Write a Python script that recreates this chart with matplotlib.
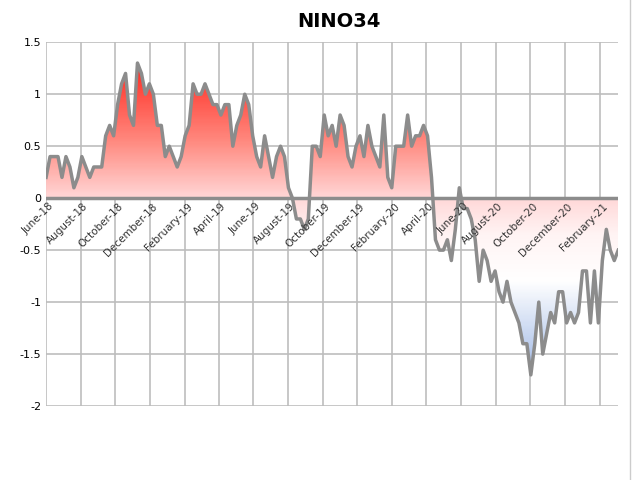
import numpy as np
import pandas as pd
import matplotlib
matplotlib.use("Agg")
import matplotlib.pyplot as plt
import matplotlib.dates as mdates
from matplotlib.colors import LinearSegmentedColormap

# weekly NINO34 values from June 2018
values = [0.2, 0.4, 0.4, 0.4, 0.2, 0.4, 0.3, 0.1, 0.2, 0.4, 0.3, 0.2, 0.3, 0.3, 0.3,
          0.6, 0.7, 0.6, 0.9, 1.1, 1.2, 0.8, 0.7, 1.3, 1.2, 1.0, 1.1, 1.0, 0.7, 0.7,
          0.4, 0.5, 0.4, 0.3, 0.4, 0.6, 0.7, 1.1, 1.0, 1.0, 1.1, 1.0, 0.9, 0.9, 0.8,
          0.9, 0.9, 0.5, 0.7, 0.8, 1.0, 0.9, 0.6, 0.4, 0.3, 0.6, 0.4, 0.2, 0.4, 0.5,
          0.4, 0.1, 0.0, -0.2, -0.2, -0.3, -0.2, 0.5, 0.5, 0.4,
          0.8, 0.6, 0.7, 0.5, 0.8, 0.7, 0.4, 0.3, 0.5, 0.6, 0.4, 0.7, 0.5, 0.4, 0.3,
          0.8, 0.2, 0.1, 0.5, 0.5, 0.5, 0.8, 0.5, 0.6, 0.6, 0.7, 0.6, 0.2, -0.4, -0.5,
          -0.5, -0.4, -0.6, -0.3, 0.1, -0.1, -0.1, -0.2, -0.4, -0.8, -0.5, -0.6, -0.8,
          -0.7, -0.9, -1.0, -0.8, -1.0, -1.1, -1.2, -1.4, -1.4, -1.7, -1.4, -1.0, -1.5,
          -1.3, -1.1, -1.2, -0.9, -0.9, -1.2, -1.1, -1.2, -1.1, -0.7, -0.7, -1.2, -0.7,
          -1.2, -0.6, -0.3, -0.5, -0.6, -0.5]
dates = pd.date_range("2018-06-01", periods=len(values), freq="7D")
tick_dates = pd.date_range("2018-06-01", "2021-02-01", freq="2MS")
tick_labels = [d.strftime("%B-%y") for d in tick_dates]

x = mdates.date2num(dates)
y = np.array(values)

fig = plt.figure(figsize=(6.4, 4.8), dpi=100)
ax = fig.add_axes([0.072, 0.154, 0.894, 0.758])
ax.set_xlim(x[0], x[-1])
ax.set_ylim(-2, 1.5)

# gradient fill clipped to the area under the curve
cmap = LinearSegmentedColormap.from_list("nino", [
    (0.0, "#9fb8e6"), (0.3, "#ffffff"), (0.45, "#fff4f4"),
    (0.566, "#ffd8d8"), (0.75, "#ff8a80"), (1.0, "#ff2a20")])
poly = ax.fill_between(x, y, 0, color="none")
grad = np.linspace(-1.7, 1.3, 300).reshape(-1, 1)
im = ax.imshow(grad, cmap=cmap, aspect="auto", origin="lower",
               extent=[x[0], x[-1], -1.7, 1.3], zorder=1)
im.set_clip_path(poly.get_paths()[0], transform=ax.transData)

ax.set_yticks([1.5, 1, 0.5, 0, -0.5, -1, -1.5, -2])
ax.set_yticklabels(["1.5", "1", "0.5", "0", "-0.5", "-1", "-1.5", "-2"])
ax.set_xticks(mdates.date2num(tick_dates))
ax.set_xticklabels([])
ax.tick_params(length=0, labelsize=8)
ax.grid(True, color="#bdbdbd", linewidth=1.2)
ax.set_axisbelow(True)
for s in ax.spines.values():
    s.set_visible(False)
ax.axhline(0, color="#8c8c8c", linewidth=2.5, zorder=2)
ax.plot(x, y, color="#8c8c8c", linewidth=2.5, zorder=3)

for d, lab in zip(mdates.date2num(tick_dates), tick_labels):
    ax.text(d + 4, -0.03, lab, rotation=45, ha="right", va="top", fontsize=7.5,
            color="#333333", rotation_mode="anchor", zorder=4)

fig.text(0.53, 0.955, "NINO34", ha="center", va="center", fontsize=14, fontweight="bold")
fig.add_artist(plt.Line2D([0.985, 0.985], [0, 1], color="#cccccc", linewidth=1))

fig.savefig("out.png")
